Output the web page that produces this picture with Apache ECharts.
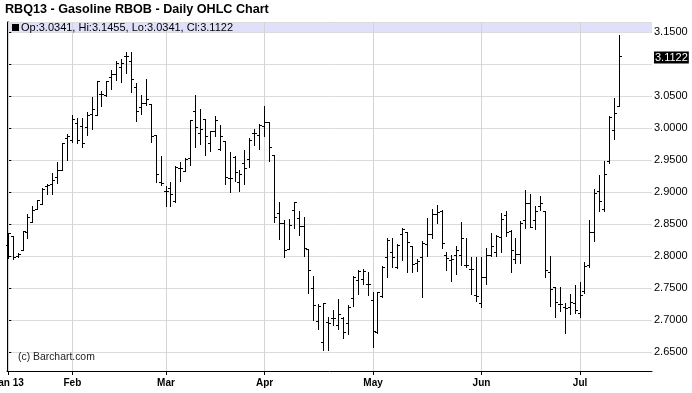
<!DOCTYPE html>
<html>
<head>
<meta charset="utf-8">
<script src="https://cdn.jsdelivr.net/npm/echarts@6/dist/echarts.min.js"></script>
<style>html,body{margin:0;padding:0;background:#fff;}#c{width:692px;height:393px;}</style>
</head>
<body>
<div id="c"></div>
<script>
// Trading days (one OHLC bar each)
var dates = [
 '2013-01-14','2013-01-15','2013-01-16','2013-01-17','2013-01-18','2013-01-22','2013-01-23','2013-01-24','2013-01-25','2013-01-28','2013-01-29','2013-01-30','2013-01-31',
 '2013-02-01','2013-02-04','2013-02-05','2013-02-06','2013-02-07','2013-02-08','2013-02-11','2013-02-12','2013-02-13','2013-02-14','2013-02-15','2013-02-19','2013-02-20','2013-02-21','2013-02-22','2013-02-25','2013-02-26','2013-02-27','2013-02-28',
 '2013-03-01','2013-03-04','2013-03-05','2013-03-06','2013-03-07','2013-03-08','2013-03-11','2013-03-12','2013-03-13','2013-03-14','2013-03-15','2013-03-18','2013-03-19','2013-03-20','2013-03-21','2013-03-22','2013-03-25','2013-03-26','2013-03-27','2013-03-28',
 '2013-04-01','2013-04-02','2013-04-03','2013-04-04','2013-04-05','2013-04-08','2013-04-09','2013-04-10','2013-04-11','2013-04-12','2013-04-15','2013-04-16','2013-04-17','2013-04-18','2013-04-19','2013-04-22','2013-04-23','2013-04-24','2013-04-25','2013-04-26','2013-04-29','2013-04-30',
 '2013-05-01','2013-05-02','2013-05-03','2013-05-06','2013-05-07','2013-05-08','2013-05-09','2013-05-10','2013-05-13','2013-05-14','2013-05-15','2013-05-16','2013-05-17','2013-05-20','2013-05-21','2013-05-22','2013-05-23','2013-05-24','2013-05-28','2013-05-29','2013-05-30','2013-05-31',
 '2013-06-03','2013-06-04','2013-06-05','2013-06-06','2013-06-07','2013-06-10','2013-06-11','2013-06-12','2013-06-13','2013-06-14','2013-06-17','2013-06-18','2013-06-19','2013-06-20','2013-06-21','2013-06-24','2013-06-25','2013-06-26','2013-06-27','2013-06-28',
 '2013-07-01','2013-07-02','2013-07-03','2013-07-05','2013-07-08','2013-07-09','2013-07-10','2013-07-11','2013-07-12'
];
var opens = [
 2.816,2.830,2.799,2.809,2.836,2.852,2.873,2.881,2.908,2.912,2.923,2.934,2.983,
 2.981,3.007,3.002,3.000,3.021,3.019,3.052,3.050,3.079,3.083,3.094,3.111,3.104,3.064,3.032,3.039,3.036,2.988,2.915,
 2.900,2.905,2.885,2.936,2.932,2.953,3.026,2.991,3.014,2.975,2.995,2.967,2.979,2.921,2.954,2.915,2.944,2.951,2.991,2.989,
 3.003,3.008,2.957,2.866,2.851,2.810,2.871,2.858,2.846,2.810,2.749,2.697,2.665,2.696,2.702,2.692,2.703,2.695,2.733,2.762,2.763,2.756,
 2.731,2.681,2.736,2.797,2.805,2.782,2.834,2.837,2.815,2.789,2.797,2.818,2.834,2.865,2.869,2.800,2.793,2.801,2.801,2.785,2.779,2.738,
 2.725,2.767,2.800,2.805,2.829,2.863,2.838,2.795,2.802,2.855,2.882,2.855,2.878,2.870,2.774,2.751,2.724,2.720,2.720,2.726,
 2.710,2.744,2.785,2.837,2.901,2.872,2.947,2.996,3.0341
];
var highs = [
 2.836,2.831,2.804,2.839,2.866,2.878,2.887,2.906,2.912,2.929,2.947,2.977,2.990,
 3.021,3.015,3.015,3.025,3.048,3.074,3.058,3.074,3.091,3.104,3.108,3.119,3.119,3.070,3.052,3.077,3.036,2.989,2.957,
 2.909,2.916,2.940,2.947,2.953,3.013,3.052,3.029,3.014,2.996,3.018,3.004,2.979,2.963,2.957,2.935,2.966,2.985,2.999,3.007,
 3.035,3.009,2.957,2.884,2.857,2.858,2.885,2.871,2.861,2.810,2.768,2.725,2.726,2.705,2.716,2.733,2.704,2.724,2.768,2.778,2.779,2.775,
 2.744,2.744,2.785,2.828,2.828,2.819,2.844,2.837,2.815,2.796,2.824,2.859,2.874,2.879,2.872,2.806,2.802,2.816,2.853,2.828,2.799,2.799,
 2.799,2.812,2.836,2.833,2.867,2.871,2.840,2.828,2.855,2.903,2.897,2.878,2.894,2.870,2.800,2.752,2.751,2.726,2.741,2.754,
 2.759,2.790,2.856,2.904,2.926,2.949,3.019,3.047,3.1455
];
var lows = [
 2.796,2.794,2.797,2.809,2.827,2.851,2.872,2.881,2.895,2.896,2.912,2.934,2.948,
 2.976,2.975,2.968,2.987,2.997,3.018,3.033,3.048,3.060,3.074,3.070,3.085,3.054,3.010,3.020,3.035,2.977,2.914,2.910,
 2.876,2.876,2.883,2.916,2.931,2.940,2.968,2.974,2.956,2.962,2.986,2.964,2.911,2.898,2.915,2.900,2.911,2.937,2.972,2.966,
 2.986,2.947,2.852,2.825,2.797,2.809,2.842,2.831,2.799,2.740,2.699,2.684,2.652,2.651,2.690,2.685,2.671,2.677,2.720,2.739,2.755,2.737,
 2.656,2.678,2.734,2.765,2.782,2.779,2.792,2.773,2.774,2.775,2.735,2.799,2.827,2.850,2.811,2.777,2.759,2.771,2.785,2.782,2.739,2.728,
 2.718,2.754,2.798,2.798,2.805,2.829,2.773,2.787,2.787,2.842,2.844,2.840,2.870,2.765,2.721,2.703,2.713,2.678,2.708,2.710,
 2.703,2.741,2.782,2.822,2.869,2.869,2.944,2.982,3.0341
];
var closes = [
 2.835,2.797,2.803,2.838,2.860,2.871,2.886,2.904,2.910,2.918,2.933,2.976,2.986,
 3.014,2.980,2.975,3.019,3.029,3.072,3.052,3.073,3.084,3.101,3.101,3.111,3.076,3.025,3.038,3.044,2.987,2.928,2.914,
 2.900,2.896,2.939,2.936,2.951,3.012,3.000,2.998,2.986,2.995,3.012,2.986,2.922,2.921,2.930,2.927,2.936,2.980,2.991,3.004,
 3.008,2.969,2.860,2.851,2.809,2.848,2.884,2.846,2.811,2.778,2.723,2.721,2.725,2.695,2.703,2.709,2.680,2.720,2.766,2.776,2.776,2.756,
 2.682,2.743,2.782,2.824,2.798,2.817,2.842,2.821,2.786,2.791,2.819,2.834,2.865,2.868,2.820,2.796,2.794,2.808,2.828,2.785,2.779,2.736,
 2.767,2.800,2.815,2.831,2.857,2.836,2.809,2.802,2.850,2.882,2.845,2.870,2.882,2.778,2.747,2.727,2.724,2.718,2.728,2.715,
 2.739,2.784,2.837,2.897,2.885,2.927,3.016,3.022,3.1122
];
var monthLabels = ['Jan 13','Feb','Mar','Apr','May','Jun','Jul'];
var titleText = 'RBQ13 - Gasoline RBOB - Daily OHLC Chart';
var copyrightText = '(c) Barchart.com';

// month-start bar indices derived from dates
var monthIdx = [];
dates.forEach(function(d, i){
  if (i === 0 || d.slice(0,7) !== dates[i-1].slice(0,7)) monthIdx.push(i);
});
var ohlc = dates.map(function(d, i){ return [i, opens[i], highs[i], lows[i], closes[i]]; });
var n = dates.length - 1;
var lastClose = closes[n];
var legendText = 'Op:' + opens[n].toFixed(4) + ', Hi:' + highs[n].toFixed(4) + ', Lo:' + lows[n].toFixed(4) + ', Cl:' + closes[n].toFixed(4);

var FONT = '"Liberation Sans", Arial, sans-serif';
var yMin = 2.6203, yMax = 3.1656;

var chart = echarts.init(document.getElementById('c'), null, {renderer: 'canvas'});
chart.setOption({
  backgroundColor: '#fff',
  animation: false,
  title: [
    {text: titleText, left: 5, top: 3, padding: 0, textStyle: {fontSize: 12.6, fontWeight: 'bold', color: '#000', fontFamily: FONT, lineHeight: 14}},
    {text: legendText, left: 21, top: 22, padding: 0, textStyle: {fontSize: 11, fontWeight: 'normal', color: '#000', fontFamily: FONT, lineHeight: 12}},
    {text: copyrightText, left: 18, top: 351, padding: 0, textStyle: {fontSize: 10.4, fontWeight: 'normal', color: '#222', fontFamily: FONT, lineHeight: 13}}
  ],
  grid: {left: 7, right: 40, top: 22, bottom: 22, containLabel: false, outerBoundsMode: 'none'},
  xAxis: {
    type: 'value', min: -0.26, max: 130.6,
    axisLine: {show: true, onZero: false, lineStyle: {color: '#000', width: 1}},
    axisTick: {show: true, length: 4, customValues: monthIdx, lineStyle: {color: '#000'}},
    axisLabel: {customValues: monthIdx, margin: 7, fontSize: 10, fontWeight: 'bold', color: '#000', fontFamily: FONT,
      formatter: function(v){ var k = monthIdx.indexOf(Math.round(v)); return k >= 0 ? monthLabels[k] : ''; }},
    splitLine: {show: false}
  },
  yAxis: [{
    type: 'value', position: 'right', min: yMin, max: yMax, splitNumber: 11,
    axisLine: {show: true, lineStyle: {color: '#000', width: 1}},
    axisTick: {show: true, length: 3, lineStyle: {color: '#000'}},
    axisLabel: {showMinLabel: false, showMaxLabel: false, margin: 2, fontSize: 11, color: '#000', fontFamily: FONT,
      formatter: function(v){ return Math.abs(v - lastClose) < 0.015 ? '' : v.toFixed(4); }},
    splitLine: {show: true, lineStyle: {color: '#dcdcdc', width: 1}}
  }, {
    type: 'value', position: 'left', min: yMin, max: yMax,
    axisLine: {show: true, lineStyle: {color: '#000', width: 1}},
    axisTick: {show: false}, axisLabel: {show: false}, splitLine: {show: false}
  }],
  graphic: [
    {type: 'rect', z: -1, shape: {x: 7, y: 22, width: 645, height: 11}, style: {fill: '#e0e0fa'}},
    {type: 'line', z: -1, shape: {x1: 7, y1: 22.5, x2: 652, y2: 22.5}, style: {stroke: '#b4b4ea', lineWidth: 1}},
    {type: 'rect', shape: {x: 12, y: 24, width: 7, height: 7}, style: {fill: '#000'}}
  ],
  series: [{
    // carries the last-close price box on the right axis
    type: 'line', z: 4, silent: true, showSymbol: false,
    lineStyle: {opacity: 0},
    data: [[n, lastClose]],
    markLine: {
      silent: true, symbol: 'none', animation: false,
      lineStyle: {color: 'rgba(0,0,0,0)', width: 0},
      label: {position: 'end', distance: 2, formatter: function(){ return lastClose.toFixed(4); },
        backgroundColor: '#000', color: '#fff', fontSize: 11, fontFamily: FONT, padding: [1, 1, 0, 1]},
      data: [{yAxis: lastClose}]
    }
  }, {
    type: 'custom', z: 3, yAxisIndex: 0,
    data: ohlc,
    encode: {x: 0, y: [1, 2, 3, 4]},
    renderItem: function(params, api){
      var x = api.value(0);
      var pO = api.coord([x, api.value(1)]);
      var pH = api.coord([x, api.value(2)]);
      var pL = api.coord([x, api.value(3)]);
      var pC = api.coord([x, api.value(4)]);
      var px = Math.floor(pO[0]);
      var xc = px + 0.5;
      var yH = Math.round(pH[1]), yL = Math.round(pL[1]);
      if (yL - yH < 1) yL = yH + 1;
      var yO = Math.floor(pO[1]) + 0.5, yC = Math.floor(pC[1]) + 0.5;
      var st = {stroke: '#000', lineWidth: 1};
      var children = [];
      // month-start bars also carry the vertical month grid line (drawn first, beneath the bar)
      if (monthIdx.indexOf(x) >= 0) {
        var gTop = api.coord([x, yMax])[1], gBot = api.coord([x, yMin])[1];
        children.push({type: 'line', z2: -10, shape: {x1: xc, y1: gTop, x2: xc, y2: gBot}, style: {stroke: '#d4d4d4', lineWidth: 1}});
      }
      children.push(
        {type: 'line', shape: {x1: xc, y1: yH, x2: xc, y2: yL}, style: st},
        {type: 'line', shape: {x1: px - 2, y1: yO, x2: px + 1, y2: yO}, style: st},
        {type: 'line', shape: {x1: px, y1: yC, x2: px + 3, y2: yC}, style: st}
      );
      return {type: 'group', children: children};
    }
  }]
});
</script>
</body>
</html>
